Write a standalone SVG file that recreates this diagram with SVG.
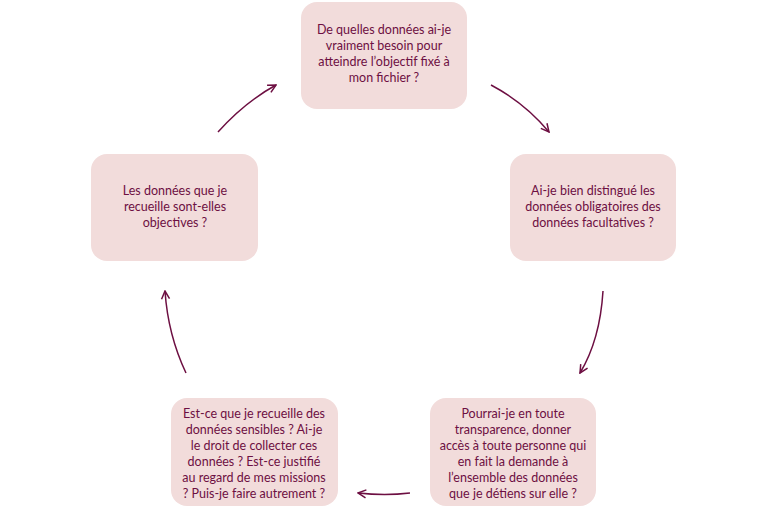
<svg xmlns="http://www.w3.org/2000/svg" width="768" height="515" viewBox="0 0 768 515">
<style>
.b{fill:#f2dcdb;stroke:none}
.t{font-family:Lato,"Liberation Sans",sans-serif;font-size:12.5px;fill:#6d0f42;text-anchor:middle}
.c{fill:none;stroke:#6d0f42;stroke-width:1.5;marker-end:url(#a)}
</style>
<defs><marker id="a" viewBox="0 0 10 10" refX="9" refY="5" markerWidth="10" markerHeight="10" orient="auto" markerUnits="userSpaceOnUse"><path d="M1,1L9,5L1,9" fill="none" stroke="#6d0f42" stroke-width="1.5"/></marker></defs>
<rect width="768" height="515" fill="#fff"/>
<g id="n1"><rect class="b" x="301" y="2" width="166" height="107" rx="16"/><text class="t"><tspan x="384" y="34">De quelles données ai-je</tspan><tspan x="384" y="50">vraiment besoin pour</tspan><tspan x="384" y="66">atteindre l’objectif fixé à</tspan><tspan x="384" y="82">mon fichier ?</tspan></text></g>
<g id="n2"><rect class="b" x="510" y="154" width="166" height="107" rx="16"/><text class="t"><tspan x="593" y="195">Ai-je bien distingué les</tspan><tspan x="593" y="211">données obligatoires des</tspan><tspan x="593" y="227">données facultatives ?</tspan></text></g>
<g id="n3"><rect class="b" x="430" y="398" width="166" height="108" rx="16"/><text class="t"><tspan x="513" y="418">Pourrai-je en toute</tspan><tspan x="513" y="434">transparence, donner</tspan><tspan x="513" y="450">accès à toute personne qui</tspan><tspan x="513" y="466">en fait la demande à</tspan><tspan x="513" y="482">l’ensemble des données</tspan><tspan x="513" y="498">que je détiens sur elle ?</tspan></text></g>
<g id="n4"><rect class="b" x="171" y="398" width="167" height="108" rx="16"/><text class="t"><tspan x="254" y="418">Est-ce que je recueille des</tspan><tspan x="254" y="434">données sensibles ? Ai-je</tspan><tspan x="254" y="450">le droit de collecter ces</tspan><tspan x="254" y="466">données ? Est-ce justifié</tspan><tspan x="254" y="482">au regard de mes missions</tspan><tspan x="254" y="498">?  Puis-je faire autrement ?</tspan></text></g>
<g id="n5"><rect class="b" x="91" y="154" width="167" height="107" rx="16"/><text class="t"><tspan x="175" y="195">Les données que je</tspan><tspan x="175" y="211">recueille sont-elles</tspan><tspan x="175" y="227">objectives ?</tspan></text></g>
<g id="connectors">
<path class="c" d="M218,132Q245,102 276,85"/>
<path class="c" d="M491,85Q525,103 549,132"/>
<path class="c" d="M603,291Q600,340 580,373"/>
<path class="c" d="M410,493Q385,496 358,493"/>
<path class="c" d="M186,373Q168,335 165,291"/>
</g>
</svg>
